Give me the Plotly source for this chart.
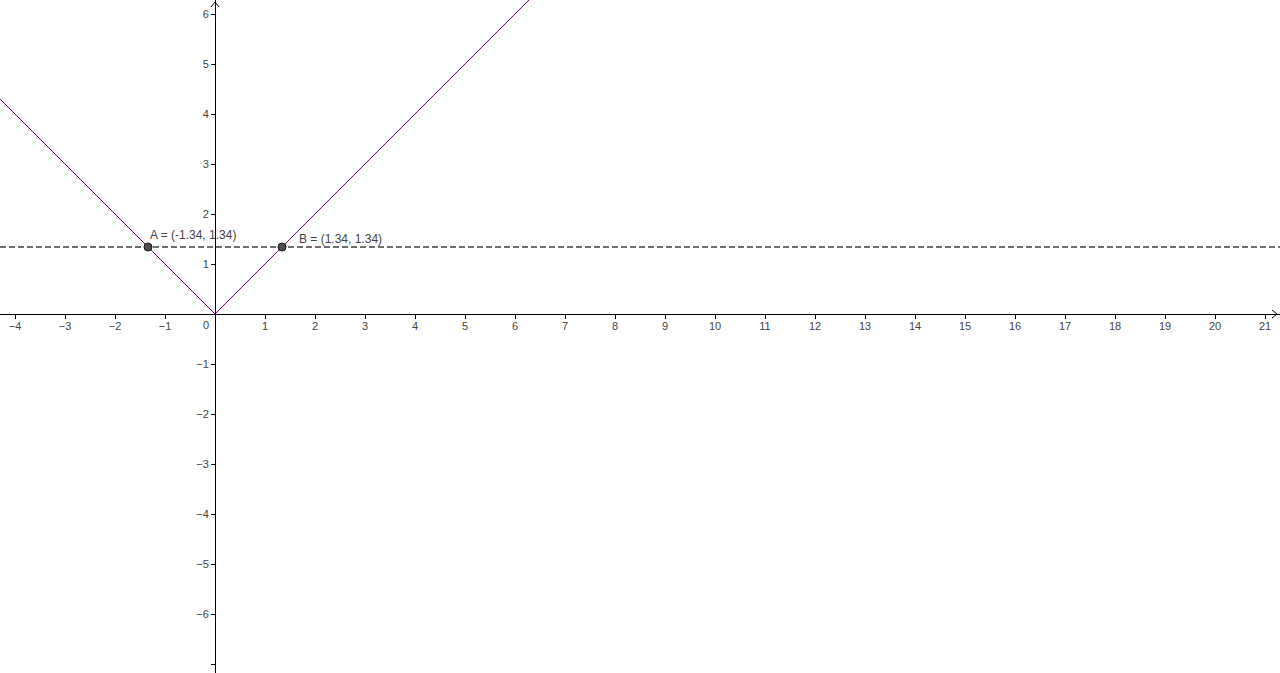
import plotly.graph_objects as go

# ---- data ----
x_range = [-4.3, 21.3]
y_range = [-7.18, 6.28]
x_ticks = [-4, -3, -2, -1, 1, 2, 3, 4, 5, 6, 7, 8, 9, 10, 11, 12, 13, 14, 15, 16, 17, 18, 19, 20, 21]
y_ticks = [-7, -6, -5, -4, -3, -2, -1, 1, 2, 3, 4, 5, 6]
y_tick_text = ["", "−6", "−5", "−4", "−3", "−2", "−1", "1", "2", "3", "4", "5", "6"]

curve_x = [-4.3, 0.0, 6.3]          # f(x) = |x|
curve_y = [4.3, 0.0, 6.3]
level_y = 1.34                       # dashed horizontal line y = 1.34
point_x = [-1.34, 1.34]
point_y = [1.34, 1.34]
point_labels = ["A = (-1.34, 1.34)", "B = (1.34, 1.34)"]

TICK_FONT = dict(family="Liberation Sans, Arial, sans-serif", size=11, color="#444444")

fig = go.Figure()

fig.add_trace(go.Scatter(
    x=x_range, y=[level_y, level_y], mode="lines",
    line=dict(color="#6e6e6e", width=2, dash="6px,3px"),
    hoverinfo="skip", showlegend=False))

fig.add_trace(go.Scatter(
    x=curve_x, y=curve_y, mode="lines",
    line=dict(color="#800080", width=1),
    hoverinfo="skip", showlegend=False))

fig.add_trace(go.Scatter(
    x=point_x, y=point_y, mode="markers",
    marker=dict(size=8, color="#4d4d4d", line=dict(color="#1a1a1a", width=1)),
    hoverinfo="skip", showlegend=False))

# point labels
label_shifts = [(0, 12), (15, 8)]
for px, py, txt, (dx, dy) in zip(point_x, point_y, point_labels, label_shifts):
    fig.add_annotation(x=px, y=py, text=txt, showarrow=False,
                       xanchor="left", yanchor="middle", xshift=dx, yshift=dy,
                       font=dict(family="Liberation Sans, Arial, sans-serif", size=12, color="#444444"))

# origin label
fig.add_annotation(x=0, y=0, text="0", showarrow=False, xanchor="right", yanchor="top",
                   xshift=-4, yshift=-3, font=TICK_FONT)

# axis arrows (open chevrons at ends of axes), sized in pixel units (50 px per unit)
px_unit = 1 / 50.0
xe = x_range[1] - 3 * px_unit
fig.add_shape(type="path", xref="x", yref="y",
              path=f"M {xe - 5*px_unit} {4*px_unit} L {xe} 0 L {xe - 5*px_unit} {-4*px_unit}",
              line=dict(color="black", width=1))
ye = y_range[1] - 2 * px_unit
fig.add_shape(type="path", xref="x", yref="y",
              path=f"M {-4*px_unit} {ye - 5*px_unit} L 0 {ye} L {4*px_unit} {ye - 5*px_unit}",
              line=dict(color="black", width=1))

x_pos = (0 - y_range[0]) / (y_range[1] - y_range[0])
y_pos = (0 - x_range[0]) / (x_range[1] - x_range[0])

fig.update_layout(
    width=1280, height=673,
    margin=dict(l=0, r=0, t=0, b=0),
    paper_bgcolor="white", plot_bgcolor="white",
    showlegend=False,
    xaxis=dict(range=x_range, anchor="free", position=x_pos, showgrid=False, zeroline=False,
               showline=True, linecolor="black", linewidth=1,
               ticks="outside", ticklen=4, tickcolor="black", tickwidth=1,
               tickvals=x_ticks, tickfont=TICK_FONT, ticklabelstandoff=-2,
               automargin=False, fixedrange=True),
    yaxis=dict(range=y_range, anchor="free", position=y_pos, showgrid=False, zeroline=False,
               showline=True, linecolor="black", linewidth=1,
               ticks="outside", ticklen=4, tickcolor="black", tickwidth=1,
               tickvals=y_ticks, ticktext=y_tick_text, tickfont=TICK_FONT,
               automargin=False, fixedrange=True),
)

post_js = (
    "document.body.style.margin='0';document.body.style.overflow='hidden';"
    "document.querySelectorAll('.scatterlayer path.js-line').forEach(function(p){"
    "p.style.shapeRendering='crispEdges';});"
)

fig.write_html("out.html", config={"displayModeBar": False}, post_script=post_js)
